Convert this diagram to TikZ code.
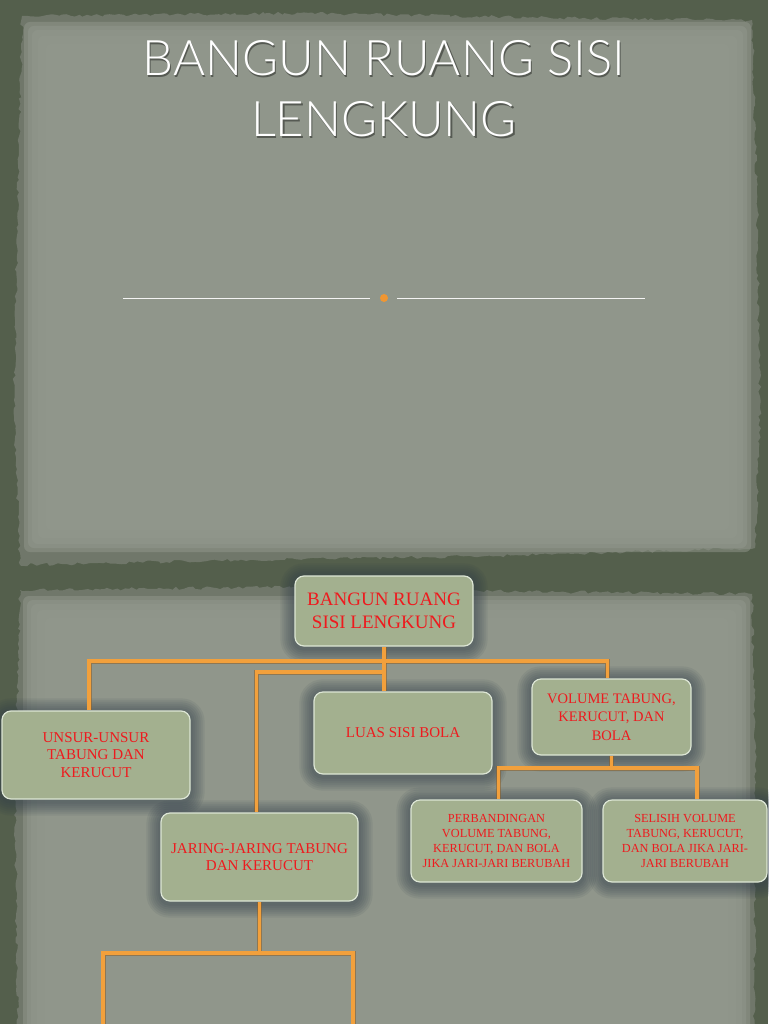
\documentclass[tikz,border=0pt]{standalone}
\usepackage{fontspec}
\setmainfont{Liberation Serif}
\IfFontExistsTF{Lato Light}{\newfontfamily\titlefont{Lato Light}}{\newfontfamily\titlefont{Lato}}
\usetikzlibrary{decorations.pathmorphing,calc}

\definecolor{bgdark}{RGB}{84,95,76}
\definecolor{paper}{RGB}{146,152,141}
\definecolor{paperedge}{RGB}{112,119,106}
\definecolor{boxfill}{RGB}{163,176,143}
\definecolor{boxedge}{RGB}{221,230,213}
\definecolor{boxred}{RGB}{238,26,30}
\definecolor{wire}{RGB}{242,160,60}
\definecolor{wiredark}{RGB}{140,95,40}
\definecolor{glow}{RGB}{45,58,72}
\definecolor{dotor}{RGB}{240,150,50}

\pgfdeclarelayer{paperlayer}
\pgfdeclarelayer{glowlayer}
\pgfdeclarelayer{wirelayer}
\pgfsetlayers{paperlayer,glowlayer,wirelayer,main}

\tikzset{
  topic/.style={rounded corners=9pt, fill=boxfill, draw=boxedge, line width=1.2pt,
    text=boxred, align=center, inner sep=0pt},
  bigtext/.style={font=\fontsize{15}{17.5}\selectfont},
  smalltext/.style={font=\fontsize{12.3}{15}\selectfont},
  torn/.style={decorate, decoration={random steps, segment length=4pt, amplitude=1.6pt}},
  wireunder/.style={draw=wiredark, line width=5pt, opacity=0.55},
  wiretop/.style={draw=wire, line width=3.2pt},
  titletext/.style={font=\titlefont\fontsize{49}{61}\selectfont, align=center},
}

\newcommand\drawwires[1]{%
  \draw[#1] (root.south) -- (root.south |- luas.north);
  \draw[#1] ([xshift=-7pt]unsur.north) |- (bus1) -| ([xshift=-4pt]vol.north);
  \draw[#1] (bus2) -| ([xshift=-3pt]jaring.north);
  \draw[#1] (vol.south) -- (bus3);
  \draw[#1] ([xshift=2pt]perb.north) |- (bus3) -| ([xshift=12pt]sel.north);
  \draw[#1] (jaring.south) -- (bus4);
  \draw[#1] (end1) |- (bus4) -| (end2);
}

\begin{document}
\begin{tikzpicture}[x=1pt,y=-1pt]
\useasboundingbox (0,0) rectangle (768,1024);

% ---------- background and paper panels ----------
\begin{pgfonlayer}{paperlayer}
  \fill[bgdark] (0,0) rectangle (768,1024);
  \pgfmathsetseed{11}
  % top panel
  \fill[paperedge, torn] (22,16) -- (300,13) -- (560,18) -- (752,20) -- (757,200)
     -- (760,420) -- (755,548) -- (500,556) -- (250,560) -- (20,565) -- (14,400)
     -- (18,200) -- cycle;
  \foreach \d/\o in {4/0.5,8/0.5,12/0.5,18/0.5,26/0.5}{
    \fill[paper, opacity=\o, rounded corners=6pt] (20+\d,18+\d) rectangle (755-\d,556-\d);
  }
  % bottom panel
  \fill[paperedge, torn] (20,590) -- (300,587) -- (560,592) -- (752,594) -- (756,800)
     -- (754,1034) -- (18,1034) -- (15,800) -- cycle;
  \foreach \d/\o in {4/0.5,8/0.5,12/0.5,18/0.5,26/0.5}{
    \fill[paper, opacity=\o, rounded corners=6pt] (19+\d,592+\d) rectangle (754-\d,1060);
  }
\end{pgfonlayer}

% ---------- title slide ----------
\node[titletext, text=black, opacity=0.4] (titleshadow) at (385.2,90.2) {BANGUN RUANG SISI\\LENGKUNG};
\node[titletext, text=white] (title) at (384,89) {BANGUN RUANG SISI\\LENGKUNG};

\coordinate (dot) at (384,298);
\coordinate (lineL) at (123,298);
\coordinate (lineR) at (645,298);
\draw[white, line width=0.8pt, opacity=0.9] (lineL) -- ([xshift=-14pt]dot);
\draw[white, line width=0.8pt, opacity=0.9] ([xshift=13pt]dot) -- (lineR);
\fill[dotor] (dot) circle (4pt);

% ---------- chart slide ----------
\node[topic, minimum width=178pt, minimum height=70pt, font=\fontsize{19}{23}\selectfont]
  (root) at (384,611) {BANGUN RUANG\\SISI LENGKUNG};
\node[topic, bigtext, minimum width=188pt, minimum height=88pt]
  (unsur) at (96,755) {UNSUR-UNSUR\\TABUNG DAN\\KERUCUT};
\node[topic, bigtext, minimum width=178pt, minimum height=82pt]
  (luas) at (403,733) {LUAS SISI BOLA};
\node[topic, font=\fontsize{14.5}{18.5}\selectfont, minimum width=159pt, minimum height=76pt]
  (vol) at (611.5,717) {VOLUME TABUNG,\\KERUCUT, DAN\\BOLA};
\node[topic, bigtext, minimum width=197pt, minimum height=88pt]
  (jaring) at (259.5,857) {JARING-JARING TABUNG\\DAN KERUCUT};
\node[topic, smalltext, minimum width=171pt, minimum height=82pt]
  (perb) at (496.5,841) {PERBANDINGAN\\VOLUME TABUNG,\\KERUCUT, DAN BOLA\\JIKA JARI-JARI BERUBAH};
\node[topic, smalltext, minimum width=164pt, minimum height=82pt]
  (sel) at (685,841) {SELISIH VOLUME\\TABUNG, KERUCUT,\\DAN BOLA JIKA JARI-\\JARI BERUBAH};

\coordinate (bus1) at (384,661);
\coordinate (bus2) at (384,672);
\coordinate (bus3) at (611.5,768);
\coordinate (bus4) at (259.5,953);
\coordinate (end1) at (103,1030);
\coordinate (end2) at (353,1030);

% glow round the boxes
\begin{pgfonlayer}{glowlayer}
  \foreach \n in {root,unsur,luas,vol,jaring,perb,sel}{
    \foreach \d in {2,4,...,14}{
      \fill[glow, opacity=0.085, rounded corners={9pt+\d pt}]
        ([shift={(-\d pt,-\d pt-2pt)}]\n.south west) rectangle ([shift={(\d pt,\d pt-2pt)}]\n.north east);
    }
  }
\end{pgfonlayer}

% connectors
\begin{pgfonlayer}{wirelayer}
  \drawwires{wireunder}
  \drawwires{wiretop}
\end{pgfonlayer}
\end{tikzpicture}
\end{document}
